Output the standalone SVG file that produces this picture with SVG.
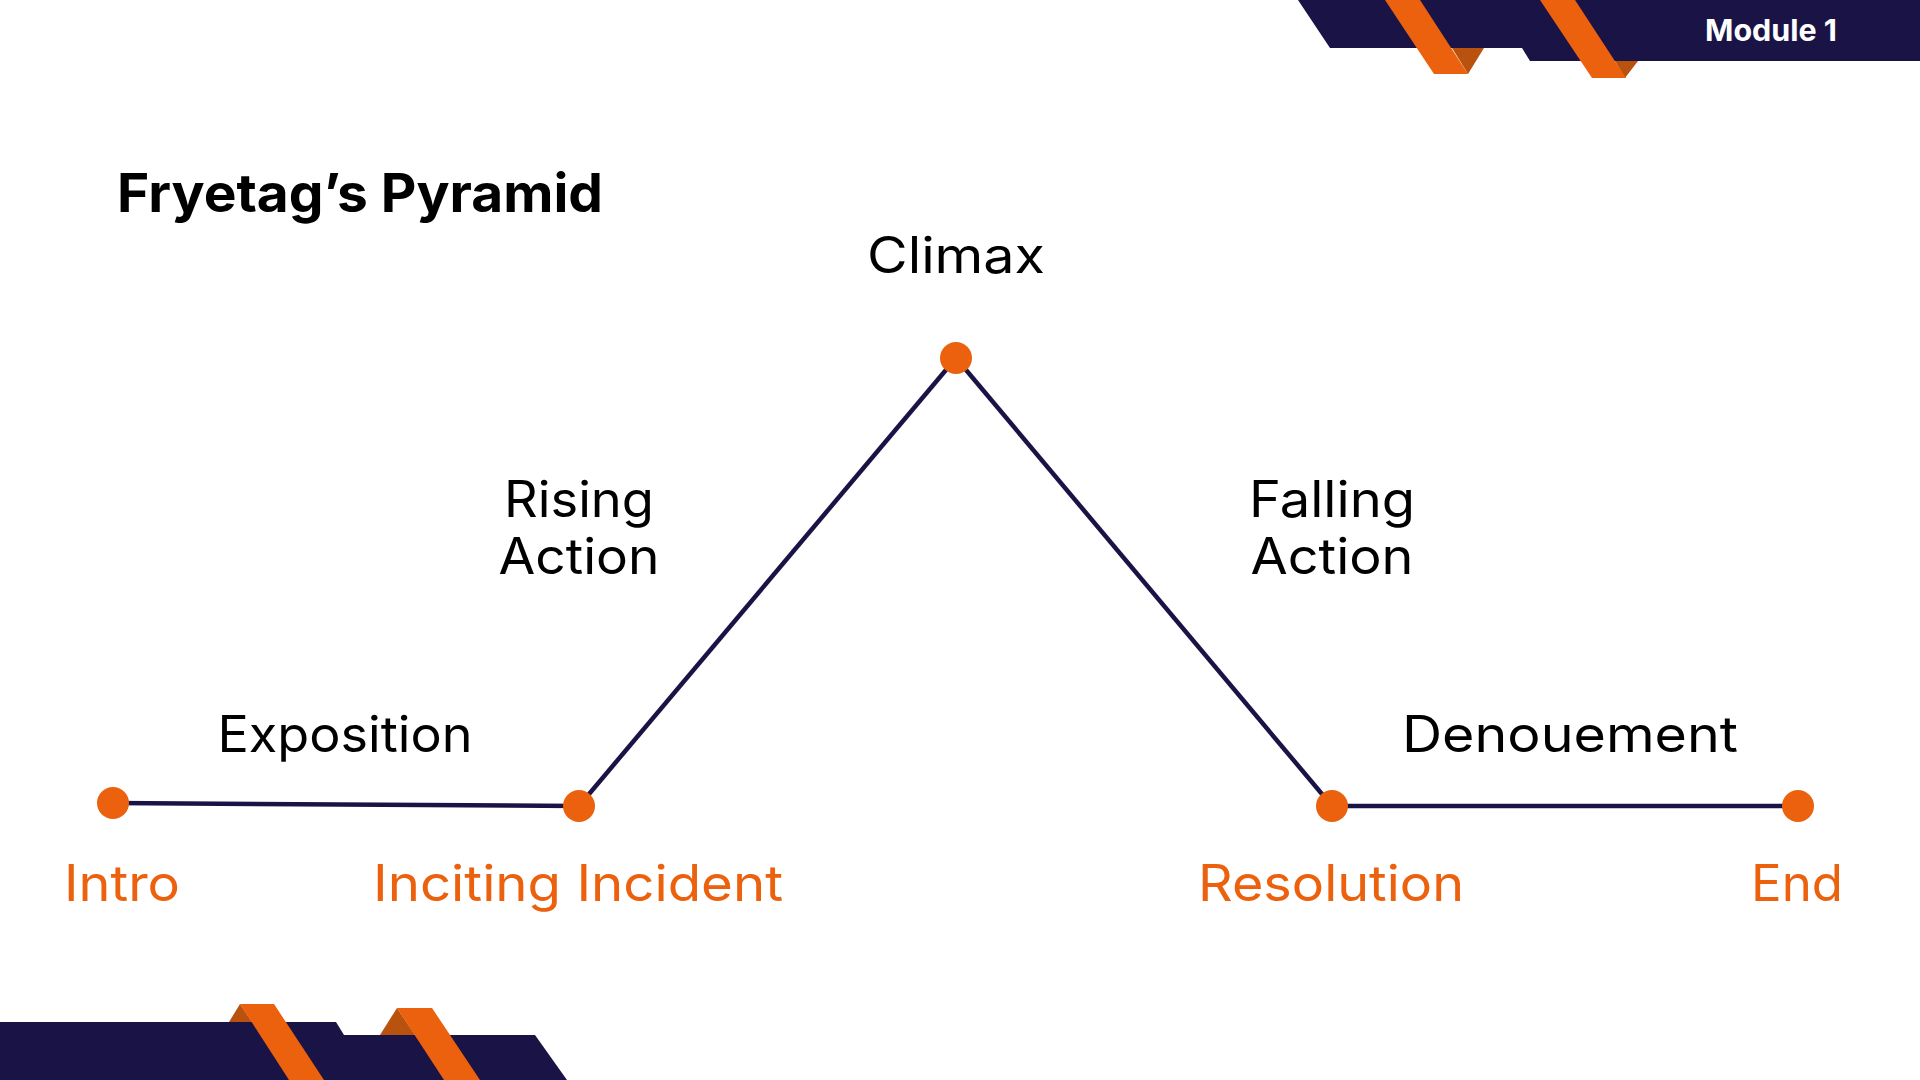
<svg xmlns="http://www.w3.org/2000/svg" width="1920" height="1080" viewBox="0 0 1920 1080">
<style>
.navy{fill:#1A1446}
.org{fill:#EB610D}
.dorg{fill:#B8520E}
.lbl{font-family:Inter,"Open Sans","Liberation Sans",sans-serif;font-size:50px;fill:#000;text-anchor:middle}
.olbl{font-family:Inter,"Open Sans","Liberation Sans",sans-serif;font-size:50px;fill:#EB610D;text-anchor:middle}
.edge{stroke:#1A1446;stroke-width:4.5;fill:none}
.dot{fill:#EB610D}
</style>
<rect width="1920" height="1080" fill="#fff"/>
<g id="banner-top">
<polygon class="navy" points="1298,0 1920,0 1920,61 1530,61 1522,48 1330,48"/>
<polygon class="dorg" points="1452,48 1484,48 1468,74"/>
<polygon class="org" points="1385,0 1420,0 1468,74 1434,74"/>
<polygon class="dorg" points="1615,61 1638,61 1625,78"/>
<polygon class="org" points="1540,0 1575,0 1626,78 1592,78"/>
<text x="1771" y="41" font-family="Inter,'Open Sans','Liberation Sans',sans-serif" font-size="30" font-weight="700" fill="#fff" text-anchor="middle" textLength="132" lengthAdjust="spacingAndGlyphs">Module 1</text>
</g>
<g id="banner-bottom">
<polygon class="navy" points="0,1022 336,1022 344,1035 535,1035 567,1080 0,1080"/>
<polygon class="dorg" points="229,1022 240,1004 252,1022"/>
<polygon class="org" points="240,1004 274,1004 324,1080 289,1080"/>
<polygon class="dorg" points="380,1035 397,1008 415,1035"/>
<polygon class="org" points="397,1008 432,1008 480,1080 444,1080"/>
</g>
<g id="title">
<text x="117" y="212" font-family="Inter,'Open Sans','Liberation Sans',sans-serif" font-size="53" font-weight="700" fill="#000" textLength="486" lengthAdjust="spacingAndGlyphs">Fryetag’s Pyramid</text>
</g>
<g id="connectors">
<line class="edge" x1="113" y1="803" x2="579" y2="806"/>
<line class="edge" x1="579" y1="806" x2="956" y2="358"/>
<line class="edge" x1="956" y1="358" x2="1332" y2="806"/>
<line class="edge" x1="1332" y1="806" x2="1798" y2="806"/>
</g>
<g id="node-intro">
<circle class="dot" cx="113" cy="803" r="16"/>
<text class="olbl" x="122" y="901" textLength="116" lengthAdjust="spacingAndGlyphs">Intro</text>
</g>
<g id="node-inciting">
<circle class="dot" cx="579" cy="806" r="16"/>
<text class="olbl" x="578" y="901" textLength="410" lengthAdjust="spacingAndGlyphs">Inciting Incident</text>
</g>
<g id="node-climax">
<circle class="dot" cx="956" cy="358" r="16"/>
<text class="lbl" x="956" y="273" textLength="178" lengthAdjust="spacingAndGlyphs">Climax</text>
</g>
<g id="node-resolution">
<circle class="dot" cx="1332" cy="806" r="16"/>
<text class="olbl" x="1331" y="901" textLength="266" lengthAdjust="spacingAndGlyphs">Resolution</text>
</g>
<g id="node-end">
<circle class="dot" cx="1798" cy="806" r="16"/>
<text class="olbl" x="1797" y="901" textLength="92" lengthAdjust="spacingAndGlyphs">End</text>
</g>
<g id="label-exposition">
<text class="lbl" x="345" y="752" textLength="255" lengthAdjust="spacingAndGlyphs">Exposition</text>
</g>
<g id="label-rising">
<text class="lbl" x="579" y="517" textLength="150" lengthAdjust="spacingAndGlyphs">Rising</text>
<text class="lbl" x="579" y="574" textLength="161" lengthAdjust="spacingAndGlyphs">Action</text>
</g>
<g id="label-falling">
<text class="lbl" x="1332" y="517" textLength="166" lengthAdjust="spacingAndGlyphs">Falling</text>
<text class="lbl" x="1332" y="574" textLength="163" lengthAdjust="spacingAndGlyphs">Action</text>
</g>
<g id="label-denouement">
<text class="lbl" x="1570" y="752" textLength="336" lengthAdjust="spacingAndGlyphs">Denouement</text>
</g>
</svg>
